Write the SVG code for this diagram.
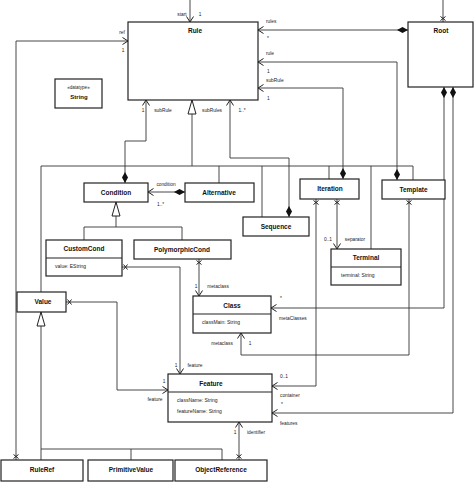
<svg xmlns="http://www.w3.org/2000/svg" width="474" height="482" viewBox="0 0 474 482">
<style>
.box{fill:#fff;stroke:#222;stroke-width:1.2}
.c{fill:none;stroke:#333;stroke-width:0.9}
.t{font-family:"Liberation Sans",Arial,sans-serif;font-weight:bold;font-size:6.5px;text-anchor:middle;fill:#111}
.l{font-family:"Liberation Sans",Arial,sans-serif;font-size:4.8px;fill:#222}
.m{text-anchor:middle}
.at{font-family:"Liberation Sans",Arial,sans-serif;font-size:5px;fill:#222}
</style>
<defs>
<marker id="arr" markerUnits="userSpaceOnUse" viewBox="-8 -5 10 10" markerWidth="10" markerHeight="10" refX="0" refY="0" orient="auto" overflow="visible"><path d="M-5.5 -3.5 L0 0 L-5.5 3.5" fill="none" stroke="#222" stroke-width="1"/></marker>
<marker id="dia" markerUnits="userSpaceOnUse" viewBox="-1 -5 13 10" markerWidth="13" markerHeight="10" refX="0" refY="0" orient="auto" overflow="visible"><path d="M0 0 L5.5 -3 L11 0 L5.5 3 Z" fill="#111"/></marker>
<marker id="x" markerUnits="userSpaceOnUse" viewBox="-1 -5 10 10" markerWidth="10" markerHeight="10" refX="0" refY="0" orient="auto" overflow="visible"><path d="M1.5 -2.5 L5.5 2.5 M1.5 2.5 L5.5 -2.5" stroke="#222" stroke-width="1"/></marker>
<marker id="tri" markerUnits="userSpaceOnUse" viewBox="-16 -6 18 12" markerWidth="18" markerHeight="12" refX="0" refY="0" orient="auto" overflow="visible"><path d="M0 0 L-14 -4 L-14 4 Z" fill="#fff" stroke="#222" stroke-width="1"/></marker>
</defs>
<g id="connectors">
<path class="c" d="M190 0 L190 22" marker-end="url(#arr)"/>
<path class="c" d="M443 22 L443 0" marker-start="url(#x)"/>
<path class="c" d="M16 460 L16 41 L128 41" marker-start="url(#x)" marker-end="url(#arr)"/>
<path class="c" d="M125 183 L125 141 L146 141 L146 100" marker-start="url(#dia)" marker-end="url(#arr)"/>
<path class="c" d="M192 166 L192 100" marker-end="url(#tri)"/>
<path class="c" d="M41 166 L413 166 M41 166 L41 292 M219 166 L219 183 M262 166 L262 217 M329 166 L329 179 M371 166 L371 249 M413 166 L413 180"/>
<path class="c" d="M289 217 L289 158 L230 158 L230 100" marker-start="url(#dia)" marker-end="url(#arr)"/>
<path class="c" d="M408 30 L258 30" marker-start="url(#dia)" marker-end="url(#arr)"/>
<path class="c" d="M397 180 L397 62 L258 62" marker-start="url(#dia)" marker-end="url(#arr)"/>
<path class="c" d="M343 179 L343 88 L258 88" marker-start="url(#dia)" marker-end="url(#arr)"/>
<path class="c" d="M185 192 L148 192" marker-start="url(#dia)" marker-end="url(#arr)"/>
<path class="c" d="M116 227 L116 202" marker-end="url(#tri)"/>
<path class="c" d="M84 227 L182 227 M84 227 L84 240 M182 227 L182 240"/>
<path class="c" d="M199 259 L199 296" marker-start="url(#x)" marker-end="url(#arr)"/>
<path class="c" d="M122 267 L180 267 L180 374" marker-start="url(#x)" marker-end="url(#arr)"/>
<path class="c" d="M66 302 L117 302 L117 390 L168 390" marker-start="url(#x)" marker-end="url(#arr)"/>
<path class="c" d="M409 199 L409 355 L241 355 L241 333" marker-start="url(#x)" marker-end="url(#arr)"/>
<path class="c" d="M337 199 L337 249" marker-start="url(#x)" marker-end="url(#arr)"/>
<path class="c" d="M316 199 L316 386 L272 386" marker-start="url(#x)" marker-end="url(#arr)"/>
<path class="c" d="M444 87 L444 308 L271 308" marker-start="url(#dia)" marker-end="url(#arr)"/>
<path class="c" d="M453 87 L453 413 L272 413" marker-start="url(#dia)" marker-end="url(#arr)"/>
<path class="c" d="M239 460 L239 422" marker-start="url(#x)" marker-end="url(#arr)"/>
<path class="c" d="M41 449 L41 312" marker-end="url(#tri)"/>
<path class="c" d="M41 449 L222 449 M41 449 L41 460 M131 449 L131 460 M222 449 L222 460"/>
<g class="l">
<text x="182" y="15.5" class="m">start</text><text x="200" y="15.5" class="m">1</text>
<text x="122" y="34" class="m">ref</text><text x="123" y="52" class="m">1</text>
<text x="143" y="112" class="m">1</text><text x="163" y="112" class="m">subRule</text>
<text x="212" y="112" class="m">subRules</text><text x="242" y="112" class="m">1..*</text>
<text x="266" y="23">rules</text><text x="267" y="40">*</text>
<text x="266" y="55">rule</text><text x="267" y="73">1</text>
<text x="266" y="82">subRule</text><text x="267" y="100">1</text>
<text x="166" y="186" class="m">condition</text><text x="157" y="206">1..*</text>
<text x="196" y="288" class="m">1</text><text x="218" y="288" class="m">metaclass</text>
<text x="176" y="367" class="m">1</text><text x="195" y="367" class="m">feature</text>
<text x="164" y="383" class="m">1</text><text x="155" y="401" class="m">feature</text>
<text x="222" y="345" class="m">metaclass</text><text x="250" y="345" class="m">1</text>
<text x="328" y="241" class="m">0..1</text><text x="355" y="241" class="m">separator</text>
<text x="280" y="378">0..1</text><text x="280" y="397">container</text>
<text x="280" y="300">*</text><text x="279" y="320">metaClasses</text>
<text x="281" y="406">*</text><text x="280" y="425">features</text>
<text x="235" y="434" class="m">1</text><text x="247" y="434">identifier</text>
</g>
</g>
<g id="Rule"><rect class="box" x="128" y="22" width="130" height="78"/><text class="t" x="195" y="32.5">Rule</text></g>
<g id="Root"><rect class="box" x="408" y="22" width="65" height="65"/><text class="t" x="441" y="32.5">Root</text></g>
<g id="String"><rect class="box" x="55" y="79" width="47" height="29"/><text class="l m" x="78.5" y="88.5" style="font-size:4.5px">«datatype»</text><text class="t" x="79" y="99" style="font-size:6px">String</text></g>
<g id="Condition"><rect class="box" x="84" y="183" width="64" height="19"/><text class="t" x="116" y="194.5">Condition</text></g>
<g id="Alternative"><rect class="box" x="185" y="183" width="69" height="19"/><text class="t" x="219" y="194.5">Alternative</text></g>
<g id="Sequence"><rect class="box" x="243" y="217" width="66" height="19"/><text class="t" x="276" y="228.5">Sequence</text></g>
<g id="Iteration"><rect class="box" x="300" y="179" width="59" height="20"/><text class="t" x="330" y="191">Iteration</text></g>
<g id="Template"><rect class="box" x="382" y="180" width="63" height="19"/><text class="t" x="413.5" y="191.5">Template</text></g>
<g id="Terminal"><rect class="box" x="331" y="249" width="70" height="36"/><line class="box" x1="331" y1="267" x2="401" y2="267"/><text class="t" x="366" y="259.5">Terminal</text><text class="at" x="341" y="277">terminal: String</text></g>
<g id="CustomCond"><rect class="box" x="46" y="240" width="76" height="36"/><line class="box" x1="46" y1="258" x2="122" y2="258"/><text class="t" x="84" y="250.5">CustomCond</text><text class="at" x="55" y="268">value: EString</text></g>
<g id="PolymorphicCond"><rect class="box" x="134" y="240" width="97" height="19"/><text class="t" x="182" y="251.5">PolymorphicCond</text></g>
<g id="Class"><rect class="box" x="193" y="296" width="78" height="37"/><line class="box" x1="193" y1="314" x2="271" y2="314"/><text class="t" x="232" y="307.5">Class</text><text class="at" x="202" y="324">classMain: String</text></g>
<g id="Value"><rect class="box" x="17" y="292" width="49" height="20"/><text class="t" x="43" y="304">Value</text></g>
<g id="Feature"><rect class="box" x="168" y="374" width="104" height="48"/><line class="box" x1="168" y1="392" x2="272" y2="392"/><text class="t" x="211" y="385.5">Feature</text><text class="at" x="177" y="402">className: String</text><text class="at" x="177" y="413">featureName: String</text></g>
<g id="RuleRef"><rect class="box" x="1" y="460" width="82" height="21"/><text class="t" x="42" y="472">RuleRef</text></g>
<g id="PrimitiveValue"><rect class="box" x="88" y="460" width="85" height="21"/><text class="t" x="131" y="472">PrimitiveValue</text></g>
<g id="ObjectReference"><rect class="box" x="175" y="460" width="92" height="21"/><text class="t" x="221" y="472">ObjectReference</text></g>
</svg>
